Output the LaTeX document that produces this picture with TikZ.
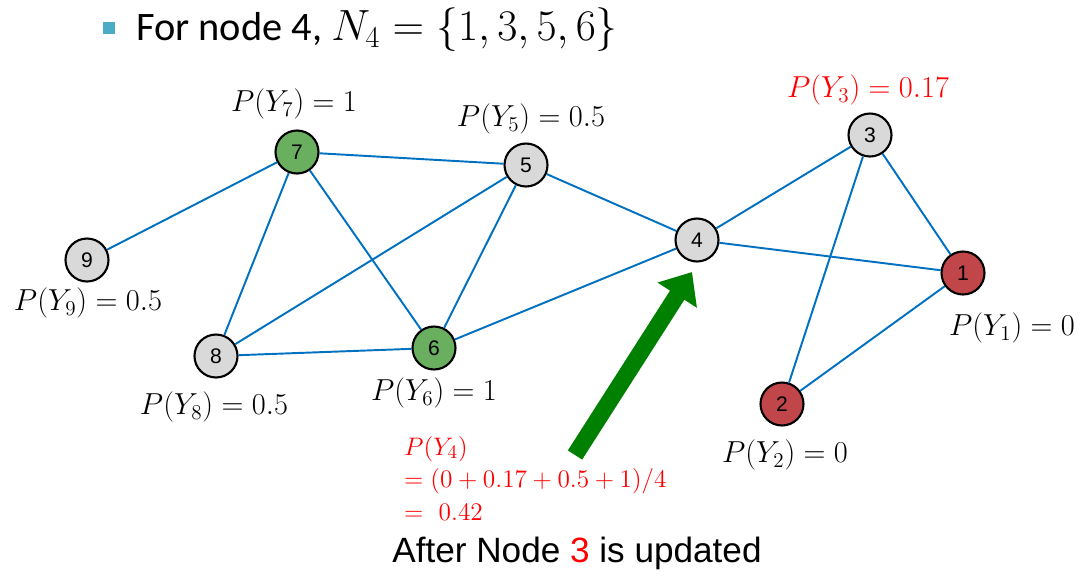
\documentclass[tikz,border=0pt]{standalone}
\usepackage{fontspec}
\setmainfont{Latin Modern Roman}
\newfontfamily\calib{Carlito}
\newfontfamily\arial{Liberation Sans}
\usetikzlibrary{arrows.meta}
\definecolor{edgeblue}{HTML}{0070C0}
\definecolor{vgreen}{HTML}{6AAE5F}
\definecolor{vred}{HTML}{C0464A}
\definecolor{vgray}{HTML}{D9D9D9}
\definecolor{bullet}{HTML}{4BACC6}

\begin{document}
\begin{tikzpicture}
    [   x = 0.02cm
    ,   y = -0.02cm
    ,   vertex/.style =
        {   draw
        ,   circle
        ,   line width = 1.2pt
        ,   inner sep = 0mm
        ,   minimum size = 0.86cm
        ,   font = \arial\fontsize{12}{13}\selectfont
        }
    ,   edge/.style = {edgeblue, line width = 1.1pt}
    ,   plabel/.style = {font = \fontsize{18}{20}\selectfont}
    ]
    \useasboundingbox (0,0) rectangle (1085,583);
    % title
    \fill[bullet] (103,22) rectangle (115,34);
    \node[anchor=west, font=\calib\fontsize{23}{26}\selectfont] (title) at (130,30)
        {For node 4, $N_4 = \{1,3,5,6\}$};
    % vertices
    \node[vertex, fill=vgreen] (v7) at (297,152) {7};
    \node[vertex, fill=vgray]  (v5) at (526,165) {5};
    \node[vertex, fill=vgray]  (v3) at (870,135) {3};
    \node[vertex, fill=vgray]  (v9) at (87,260)  {9};
    \node[vertex, fill=vgray]  (v4) at (697,240) {4};
    \node[vertex, fill=vred]   (v1) at (963,273) {1};
    \node[vertex, fill=vgray]  (v8) at (216,356) {8};
    \node[vertex, fill=vgreen] (v6) at (434,348) {6};
    \node[vertex, fill=vred]   (v2) at (782,404) {2};
    % edges
    \foreach\a/\b in {7/9,7/5,7/8,7/6,5/8,5/6,5/4,6/8,6/4,4/3,4/1,3/1,3/2,2/1}
    {   \draw[edge] (v\a) -- (v\b);
    }
    % labels
    \node[plabel] (p7) at (294,104) {$P(Y_7) = 1$};
    \node[plabel] (p5) at (531,119) {$P(Y_5) = 0.5$};
    \node[plabel, red] (p3) at (868,90) {$P(Y_3) = 0.17$};
    \node[plabel] (p9) at (88,303) {$P(Y_9) = 0.5$};
    \node[plabel] (p1) at (1012,328) {$P(Y_1) = 0$};
    \node[plabel] (p8) at (214,407) {$P(Y_8) = 0.5$};
    \node[plabel] (p6) at (434,393) {$P(Y_6) = 1$};
    \node[plabel] (p2) at (785,455) {$P(Y_2) = 0$};
    \node[anchor=north west, red, align=left, font=\fontsize{15.5}{18.5}\selectfont] (p4) at (398,430)
        {$P(Y_4)$\\$=(0+0.17+0.5+1)/4$\\$=\ 0.42$};
    % update arrow
    \coordinate (tail) at (575,455);
    \coordinate (head) at (692,272);
    \draw[-{Triangle[length=0.55cm,width=0.9cm]}, line width=0.34cm, green!50!black] (tail) -- (head);
    \node[font=\arial\fontsize{20}{24}\selectfont] (caption) at (577,553)
        {After Node {\color{red}3} is updated};
\end{tikzpicture}
\end{document}
